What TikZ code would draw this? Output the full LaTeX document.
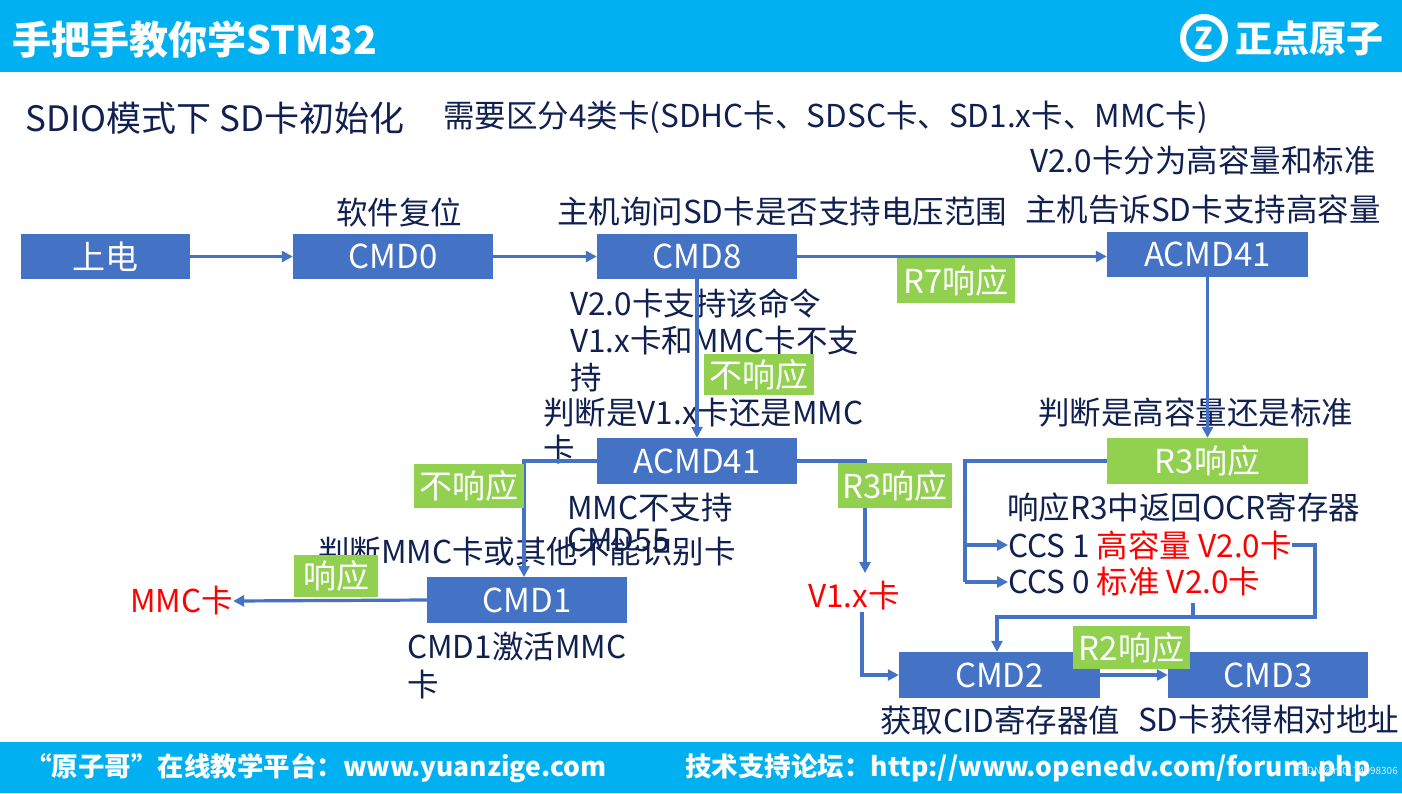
\documentclass[tikz,border=0pt]{standalone}
\usepackage{fontspec}
\setmainfont{Noto Sans CJK SC}
\usetikzlibrary{arrows.meta}
\definecolor{barblue}{RGB}{0,176,240}
\definecolor{boxblue}{RGB}{68,114,196}
\definecolor{lgreen}{RGB}{146,208,80}
\definecolor{navy}{RGB}{16,32,80}
\begin{document}
\begin{tikzpicture}[x=1pt,y=-1pt,
  fs/.style={font=\fontsize{31.5}{34}\selectfont},
  bfs/.style={font=\fontsize{33}{36}\selectfont},
  bbox/.style={fill=boxblue,text=white,inner sep=0,bfs},
  gbox/.style={fill=lgreen,text=white,inner sep=0,bfs},
  txt/.style={text=navy,inner sep=0,fs,anchor=west},
  rtxt/.style={text=red,inner sep=0,fs,anchor=west},
  arr/.style={draw=boxblue,line width=3.2pt,-{Triangle[length=11pt,width=11pt]}},
  ln/.style={draw=boxblue,line width=3.2pt}]
\useasboundingbox (0,0) rectangle (1402,793);
\fill[white] (0,0) rectangle (1402,793);
\fill[barblue] (0,0) rectangle (1402,72);
\fill[barblue] (0,742) rectangle (1402,793);
\node[anchor=west,text=white,font=\fontsize{39}{42}\selectfont\bfseries,inner sep=0] (title) at (12,40) {手把手教你学STM32};
\node[anchor=west,text=white,font=\fontsize{37}{40}\selectfont\bfseries,inner sep=0] (logo) at (1235,38) {正点原子};
\node[circle,draw=white,line width=6pt,minimum size=42pt,inner sep=0] (lg) at (1204,38) {};
\node[text=white,font=\fontsize{30}{30}\selectfont\bfseries,inner sep=0] at (lg) {Z};
\node[anchor=west,text=white,font=\fontsize{26.5}{29}\selectfont\bfseries,inner sep=0] (f1) at (25,768) {“原子哥”在线教学平台：www.yuanzige.com};
\node[anchor=west,text=white,font=\fontsize{26.5}{29}\selectfont\bfseries,inner sep=0] (f2) at (685,768) {技术支持论坛：http://www.openedv.com/forum.php};
\node[txt,font=\fontsize{35}{38}\selectfont] (h1) at (25,118) {SDIO模式下 SD卡初始化};
\node[txt] (h2) at (443,117) {需要区分4类卡(SDHC卡、SDSC卡、SD1.x卡、MMC卡)};
% boxes
\node[bbox,minimum width=169pt,minimum height=45pt] (pw) at (105.5,256.5) {上电};
\node[bbox,minimum width=200pt,minimum height=45pt] (c0) at (393,256.5) {CMD0};
\node[bbox,minimum width=200pt,minimum height=45pt] (c8) at (697,256.5) {CMD8};
\node[bbox,minimum width=201pt,minimum height=45pt] (a1) at (1207.5,254.5) {ACMD41};
\node[bbox,minimum width=200pt,minimum height=46pt] (a2) at (697,461) {ACMD41};
\node[bbox,minimum width=200pt,minimum height=46pt] (c1) at (527,600) {CMD1};
\node[bbox,minimum width=201pt,minimum height=46pt] (c2) at (999.5,675) {CMD2};
\node[bbox,minimum width=200pt,minimum height=46pt] (c3) at (1268,675) {CMD3};
\node[gbox,minimum width=201pt,minimum height=46pt] (r3b) at (1207.5,461) {R3响应};
% texts
\node[txt,anchor=center] (t1) at (399,212) {软件复位};
\node[txt] (t2) at (557,212) {主机询问SD卡是否支持电压范围};
\node[txt] (t3) at (1030,160) {V2.0卡分为高容量和标准};
\node[txt] (t4) at (1025,210) {主机告诉SD卡支持高容量};
\node[txt] (t5) at (570,303) {V2.0卡支持该命令};
\node[txt] (t6) at (570,341) {V1.x卡和MMC卡不支};
\node[txt] (t7) at (570,378) {持};
\node[txt] (t8) at (543,413) {判断是V1.x卡还是MMC};
\node[txt] (t9) at (543,450) {卡};
\node[txt] (t10) at (567,508) {MMC不支持};
\node[txt] (t11) at (567,540) {CMD55};
\node[txt] (t12) at (318,552) {判断MMC卡或其他不能识别卡};
\node[rtxt] (mmc) at (130,601) {MMC卡};
\node[txt] (t13) at (407,647) {CMD1激活MMC};
\node[txt] (t14) at (407,685) {卡};
\node[rtxt] (v1) at (808,596) {V1.x卡};
\node[txt] (t15) at (1038,413) {判断是高容量还是标准};
\node[txt] (t16) at (1007,508) {响应R3中返回OCR寄存器};
\node[txt] (ccs1) at (1008,545) {CCS 1 \textcolor{red}{高容量 V2.0卡}};
\node[txt] (ccs0) at (1008,582) {CCS 0 \textcolor{red}{标准 V2.0卡}};
\node[txt] (t17) at (880,720) {获取CID寄存器值};
\node[txt] (t18) at (1138,720) {SD卡获得相对地址};
% arrows
\draw[arr] (pw) -- (c0);
\draw[arr] (c0) -- (c8);
\draw[arr] (c8.east) -- (a1.west|-c8.east);
\draw[arr] (c8.south) -- (a2.north);
\draw[arr] (a1.south) -- (r3b.north);
\draw[arr] (a2.west) -| (524,577) coordinate (c1t);
\draw[arr] (a2.east) -| (865,573) coordinate (v1t);
\draw[arr] (862,612) |- (c2.west);
\draw[arr] (c1.west) -- (mmc.east);
\draw[ln] (r3b.west) -| (965,582);
\draw[arr] (965,545) -- (ccs1.west);
\draw[arr] (965,582) -- (ccs0.west);
\draw[arr] (ccs1.east) -| (1315,617) -| (c2.north-|997,0);
\draw[ln] (1193,603) -- (1193,617);
\draw[arr] (c2.east) -- (c3.west);
% green labels
\node[gbox,minimum width=118pt,minimum height=45pt] (r7) at (956,280.5) {R7响应};
\node[gbox,minimum width=110pt,minimum height=41pt] (nr1) at (759,374.5) {不响应};
\node[gbox,minimum width=110pt,minimum height=44pt] (nr2) at (469,486) {不响应};
\node[gbox,minimum width=114pt,minimum height=45pt] (r3a) at (895,485.5) {R3响应};
\node[gbox,minimum width=84pt,minimum height=42pt] (rs) at (336,576) {响应};
\node[gbox,minimum width=117pt,minimum height=43pt] (r2) at (1131.5,647.5) {R2响应};
\node[anchor=east,text=white!85!gray,font=\fontsize{10}{12}\selectfont,inner sep=0] (wm) at (1398,772) {CSDN @m0\_74098306};
\end{tikzpicture}
\end{document}
